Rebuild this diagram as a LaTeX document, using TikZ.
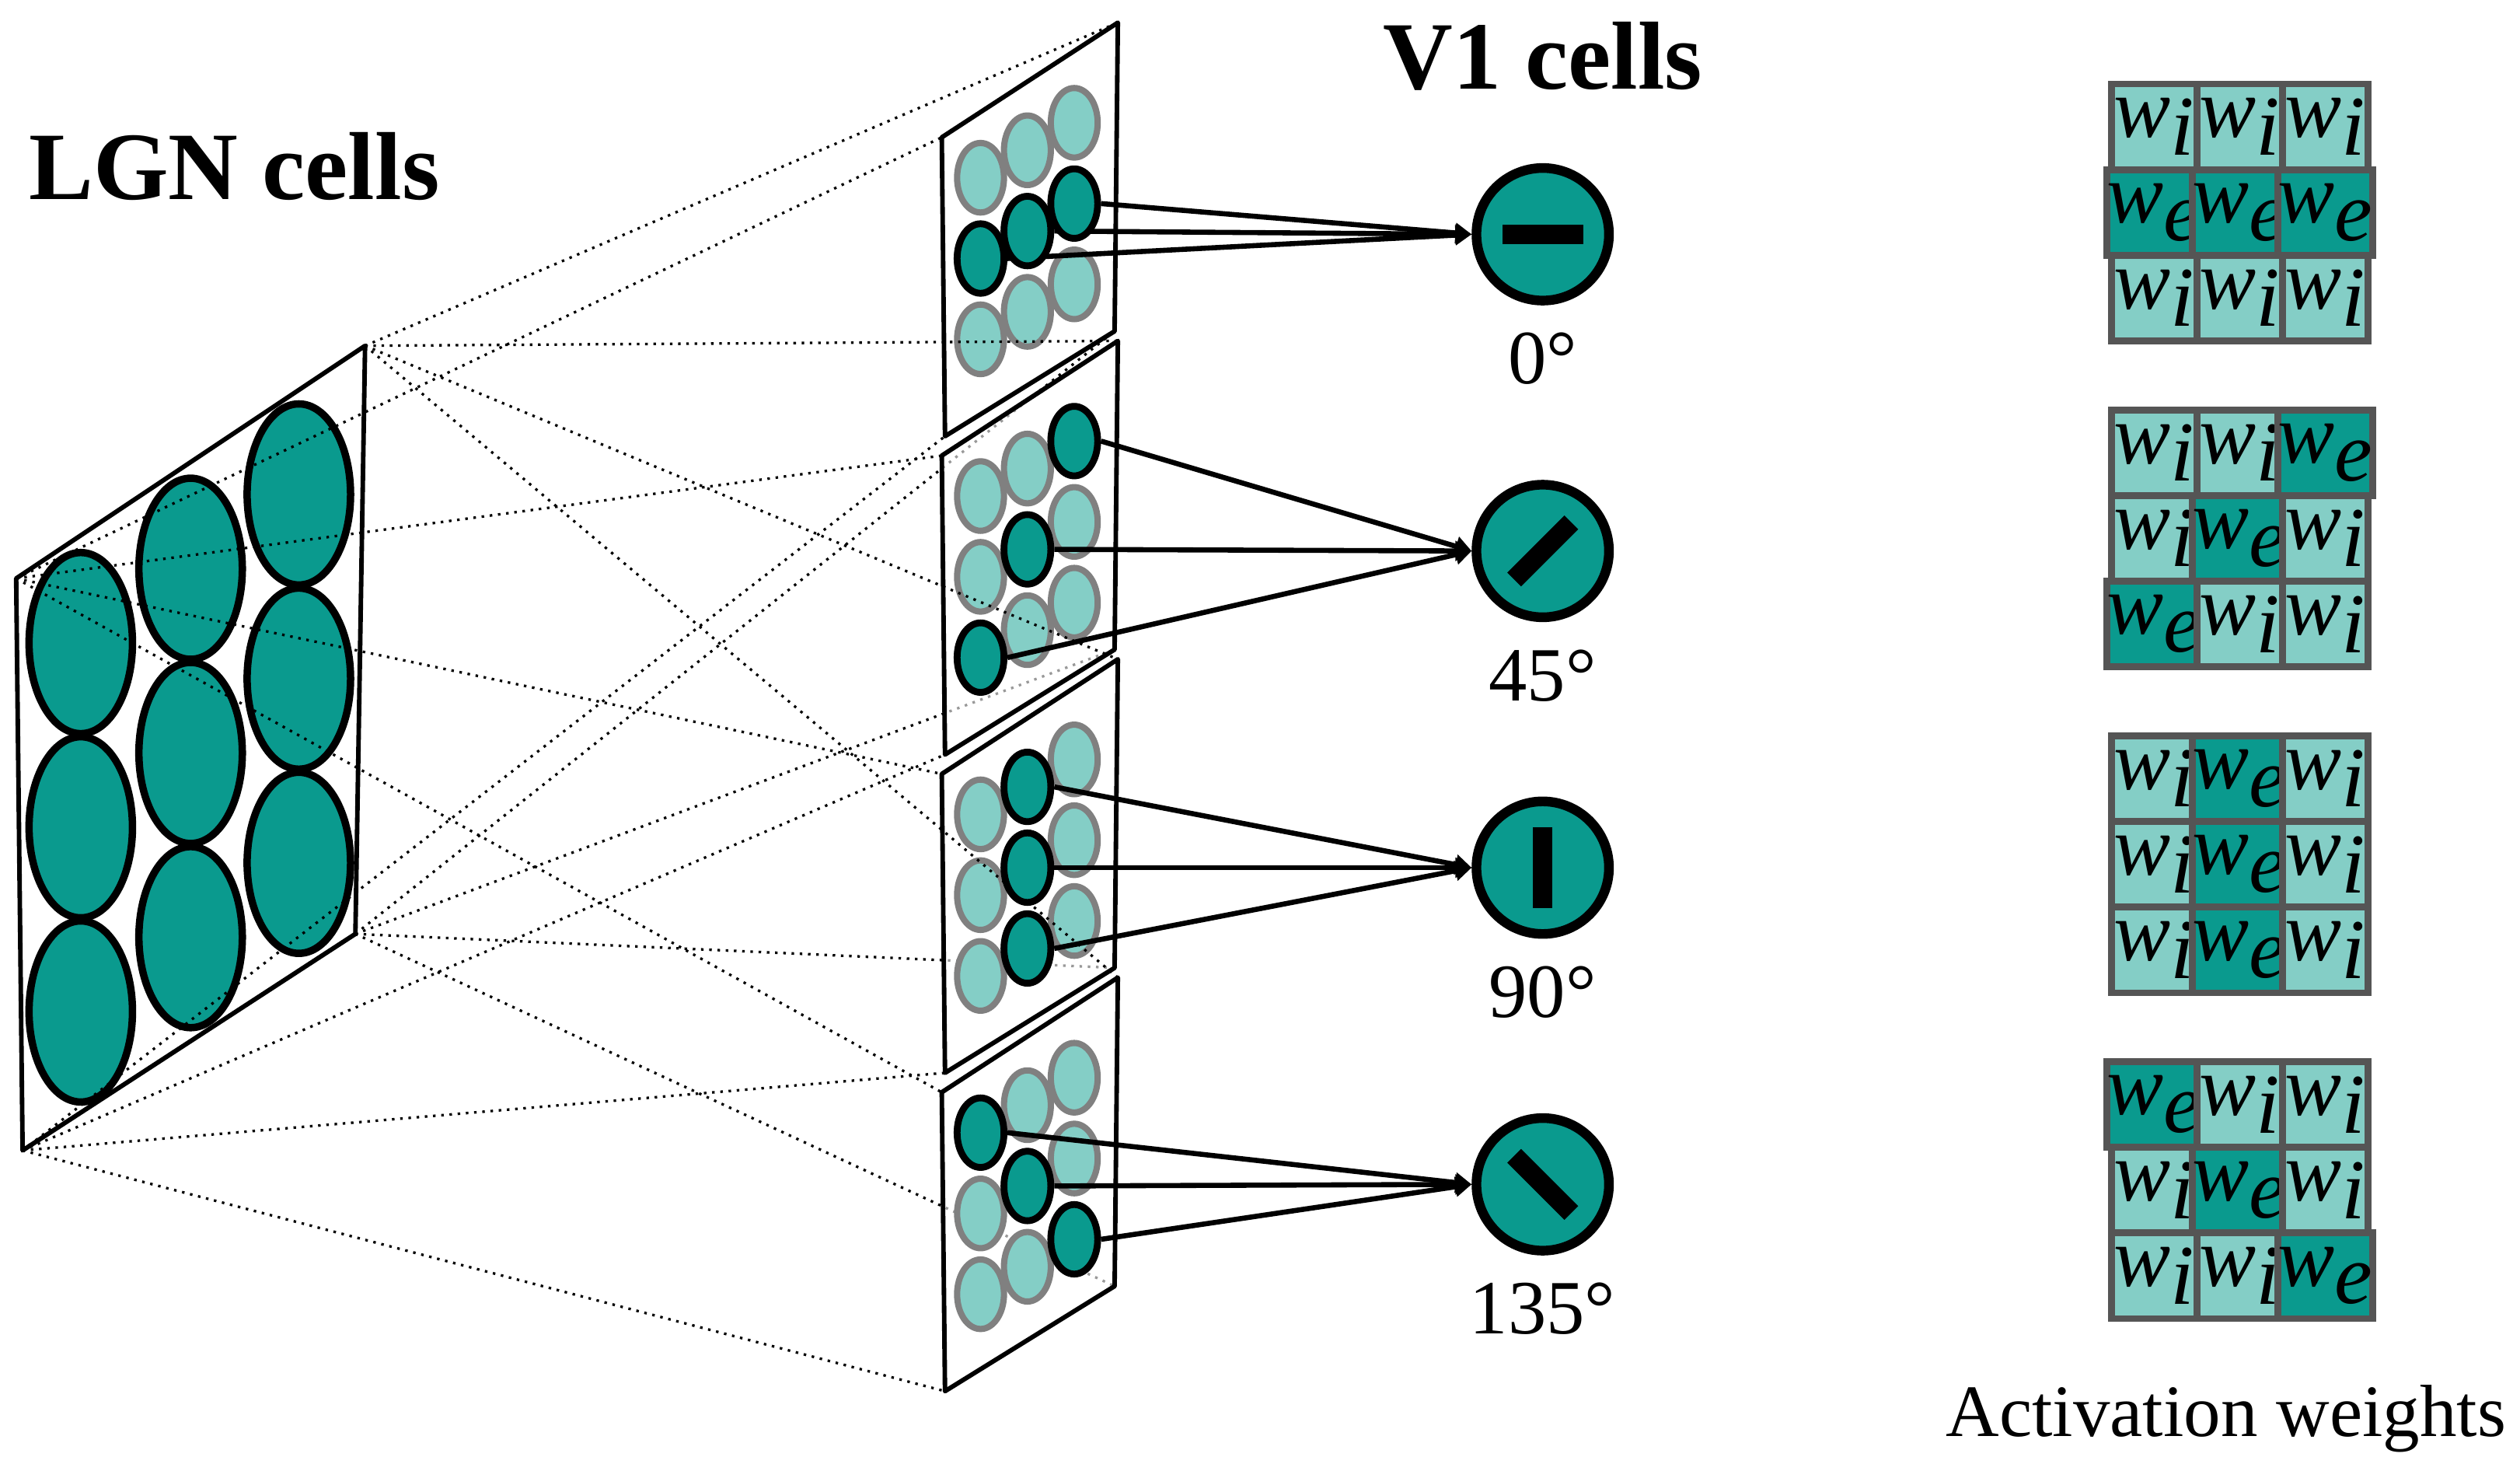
\documentclass[tikz,border=0pt]{standalone}
\usepackage{fontspec}
\setmainfont{Liberation Serif}
\usetikzlibrary{shapes.geometric,arrows.meta}
\definecolor{teal}{HTML}{0A9A8E}
\definecolor{lteal}{HTML}{84CEC6}
\definecolor{gridc}{HTML}{555555}
\newcommand{\wsub}[1]{\textit{w}\raisebox{-0.45ex}{\textit{#1}}}
\def\excite{e}

\begin{document}
\begin{tikzpicture}[x=0.01cm,y=-0.01cm,
  frame/.style={line width=0.8pt,line join=round},
  proj/.style={densely dotted,line width=0.45pt},
  lgn/.style={ellipse,draw,fill=teal,line width=1.3pt,minimum width=0.64cm,minimum height=1.12cm,inner sep=0pt},
  off/.style={ellipse,draw=black!50,fill=lteal,line width=1.1pt,minimum width=0.29cm,minimum height=0.43cm,inner sep=0pt},
  on/.style={ellipse,draw,fill=teal,line width=1.2pt,minimum width=0.29cm,minimum height=0.43cm,inner sep=0pt},
  v1/.style={circle,draw,fill=teal,line width=1.7pt,minimum size=0.82cm,inner sep=0pt},
  bar/.style={fill=black,minimum width=0.5cm,minimum height=0.12cm,inner sep=0pt},
  link/.style={line width=0.9pt,-{Triangle[length=0.1cm,width=0.12cm]}},
  title/.style={font=\fontsize{17}{20}\selectfont\bfseries},
  lab/.style={font=\fontsize{13.5}{16}\selectfont},
  cell/.style={minimum size=0.53cm,inner sep=0pt,draw=gridc,line width=1.2pt,font=\fontsize{15}{16}\selectfont}
  ]
\useasboundingbox (0,0) rectangle (1560,906);

% LGN sheet
\coordinate (L1) at (10,358);
\coordinate (L2) at (226,214);
\coordinate (L3) at (220,578);
\coordinate (L4) at (14,712);
\draw[frame] (L1) -- (L2) -- (L3) -- (L4) -- cycle;
\foreach \c/\x/\y in {1/50/398,2/118/352,3/185/306}
  \foreach \r in {0,1,2}
    \node[lgn] (g-\c-\r) at (\x,\y+114*\r) {};

% V1 input sheets
\foreach \k in {0,1,2,3}{
  \coordinate (P\k-1) at (583,85+197*\k);
  \coordinate (P\k-2) at (692,14+197*\k);
  \coordinate (P\k-3) at (690,205+197*\k);
  \coordinate (P\k-4) at (585,270+197*\k);
  \foreach \i in {1,2,3,4}
    \draw[proj] (L\i) -- (P\k-\i);
  \draw[frame,fill=white,fill opacity=0.6] (P\k-1) -- (P\k-2) -- (P\k-3) -- (P\k-4) -- cycle;
  \foreach \c/\x/\y in {1/607/110,2/636/93,3/665/76}
    \foreach \r in {1,2,3}
      \node[off] (s-\k-\c-\r) at (\x,\y+50*\r-50+197*\k) {};
}

% V1 cells
\node[title] (v1t) at (955,35) {V1 cells};
\node[title] (lgnt) at (145,103) {LGN cells};
\foreach \k/\a/\t in {0/0/0°,1/45/45°,2/90/90°,3/135/135°}{
  \node[v1] (v\k) at (955,145+196*\k) {};
  \node[bar,rotate=\a] at (v\k) {};
  \node[lab] (t\k) at (955,222+196*\k) {\t};
}

% selected inputs
\foreach \k/\list in {0/{1/2,2/2,3/2},1/{3/1,2/2,1/3},2/{2/1,2/2,2/3},3/{1/1,2/2,3/3}}
  \foreach \c/\r in \list{
    \node[on] (h-\k-\c-\r) at (s-\k-\c-\r) {};
    \draw[link] (h-\k-\c-\r.east) -- (v\k.west);
  }

% weight grids
\foreach \k/\pat in {0/{i,i,i,e,e,e,i,i,i},1/{i,i,e,i,e,i,e,i,i},2/{i,e,i,i,e,i,i,e,i},3/{e,i,i,i,e,i,i,i,e}}
  \foreach \w [count=\n from 0] in \pat{
    \pgfmathtruncatemacro\cc{mod(\n,3)}
    \pgfmathtruncatemacro\rr{div(\n,3)}
    \ifx\w\excite\def\fc{teal}\else\def\fc{lteal}\fi
    \node[cell,fill=\fc] (w-\k-\n) at (1333.5+53*\cc,78.5+201.7*\k+53*\rr) {\wsub{\w}};
  }
\node[lab,font=\fontsize{13}{16}\selectfont] (act) at (1378,878) {Activation weights};
\end{tikzpicture}
\end{document}
